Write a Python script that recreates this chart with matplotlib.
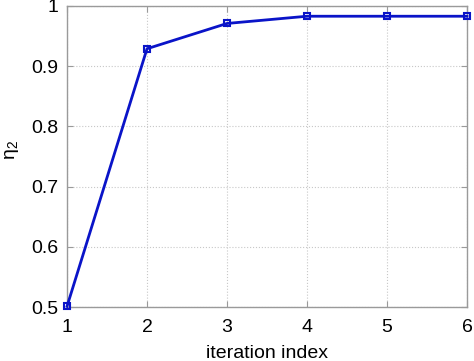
import matplotlib
matplotlib.use("Agg")
import matplotlib.pyplot as plt

iterations = [1, 2, 3, 4, 5, 6]
eta2 = [0.501, 0.929, 0.971, 0.983, 0.983, 0.983]
xticks = [1, 2, 3, 4, 5, 6]
yticks = [0.5, 0.6, 0.7, 0.8, 0.9, 1.0]
yticklabels = ["0.5", "0.6", "0.7", "0.8", "0.9", "1"]

plt.rcParams['font.family'] = ['Liberation Sans', 'DejaVu Sans']

fig = plt.figure(figsize=(4.74, 3.61), dpi=100)
ax = fig.add_axes([67/474, 54/361, 400/474, 301/361])
ax.plot(iterations, eta2, color='#0a14c8', linewidth=2, marker='s',
        markersize=5, markerfacecolor='none', markeredgecolor='#0a14c8', markeredgewidth=1.5,
        clip_on=False, zorder=3)
ax.set_xlim(1, 6)
ax.set_ylim(0.5, 1.0)
ax.set_xticks(xticks)
ax.set_yticks(yticks)
ax.set_yticklabels(yticklabels)
ax.grid(True, linestyle=':', color='#c8c8c8', linewidth=0.8)
for s in ax.spines.values():
    s.set_color('#9a9a9a')
    s.set_linewidth(1)
ax.tick_params(direction='in', top=True, right=True, color='#9a9a9a', length=4,
               labelsize=14, labelcolor='black')
ax.tick_params(axis='x', pad=9)
ax.tick_params(axis='y', pad=6)
ax.set_xlabel('iteration index', fontsize=14, labelpad=6)
ax.set_ylabel(r'$\mathregular{\eta_2}$', fontsize=14)
ax.yaxis.set_label_coords(-0.115, 0.52)
fig.savefig('out.png', dpi=100)
